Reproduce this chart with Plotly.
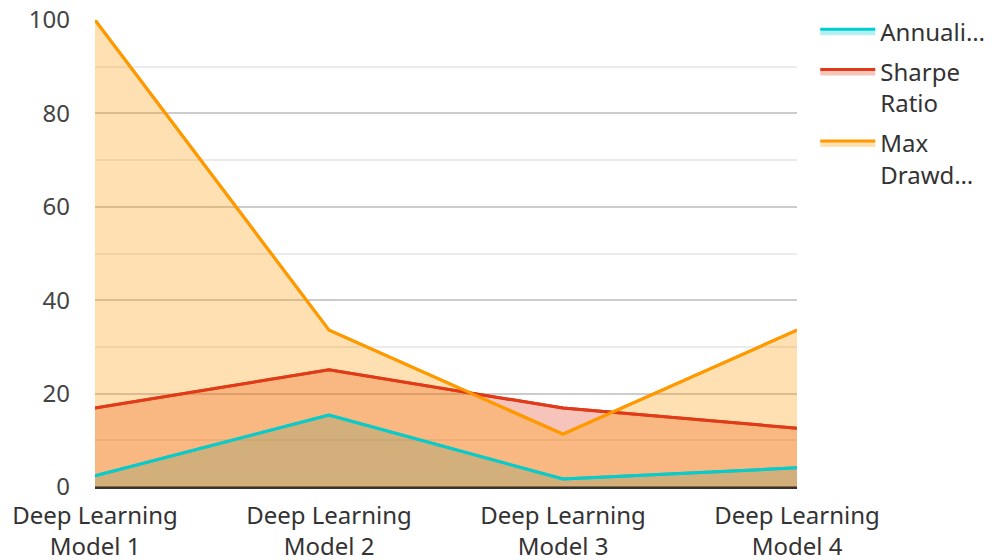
import plotly.graph_objects as go

categories = ["Deep Learning<br>Model 1", "Deep Learning<br>Model 2", "Deep Learning<br>Model 3", "Deep Learning<br>Model 4"]
annualized = [2.4, 15.4, 1.7, 4.1]
sharpe = [16.9, 25.1, 16.9, 12.6]
max_drawdown = [100, 33.6, 11.3, 33.6]
series_names = ["Annuali…", "Sharpe<br>Ratio", "Max<br>Drawd…"]

colors = ["rgb(0,206,209)", "rgb(224,58,26)", "rgb(255,153,0)"]
fills = ["rgba(0,206,209,0.3)", "rgba(224,58,26,0.3)", "rgba(255,153,0,0.3)"]
series = [annualized, sharpe, max_drawdown]

fig = go.Figure()
# filled areas (with legend entries)
for i, (name, vals, c, f) in enumerate(zip(series_names, series, colors, fills)):
    fig.add_trace(go.Scatter(x=categories, y=vals, name=name, mode="lines", legendgroup=f"g{i}",
                             line=dict(color=c, width=3), fill="tozeroy", fillcolor=f))
# lines drawn on top of all fills
for i, (name, vals, c) in enumerate(zip(series_names, series, colors)):
    fig.add_trace(go.Scatter(x=categories, y=vals, name=name, mode="lines", legendgroup=f"g{i}",
                             line=dict(color=c, width=3), showlegend=False, hoverinfo="skip"))

fig.update_layout(
    width=984, height=552,
    margin=dict(l=87, r=195, t=12, b=73, autoexpand=False),
    plot_bgcolor="white", paper_bgcolor="white",
    font=dict(family="Noto Sans", size=24, color="#444"),
    legend=dict(x=1.026, y=1.023, xanchor="left", yanchor="top", font=dict(size=24, color="#333"),
                itemwidth=55, tracegroupgap=6, traceorder="grouped", valign="top"),
    xaxis=dict(range=[0, 3], showgrid=False, ticks="", tickfont=dict(size=24, color="#333"),
               showline=False, zeroline=False, automargin=False, ticklabelstandoff=12,
               ticklabeloverflow="allow"),
    yaxis=dict(range=[0, 100], dtick=20, gridcolor="#cccccc", gridwidth=1.5,
               zeroline=True, zerolinecolor="#333", zerolinewidth=2.5,
               minor=dict(dtick=10, showgrid=True, gridcolor="#ebebeb", gridwidth=1.5),
               ticks="", tickfont=dict(size=24, color="#444"), ticklabelstandoff=24,
               automargin=False, ticklabeloverflow="allow"),
)
fig.write_html("out.html")
